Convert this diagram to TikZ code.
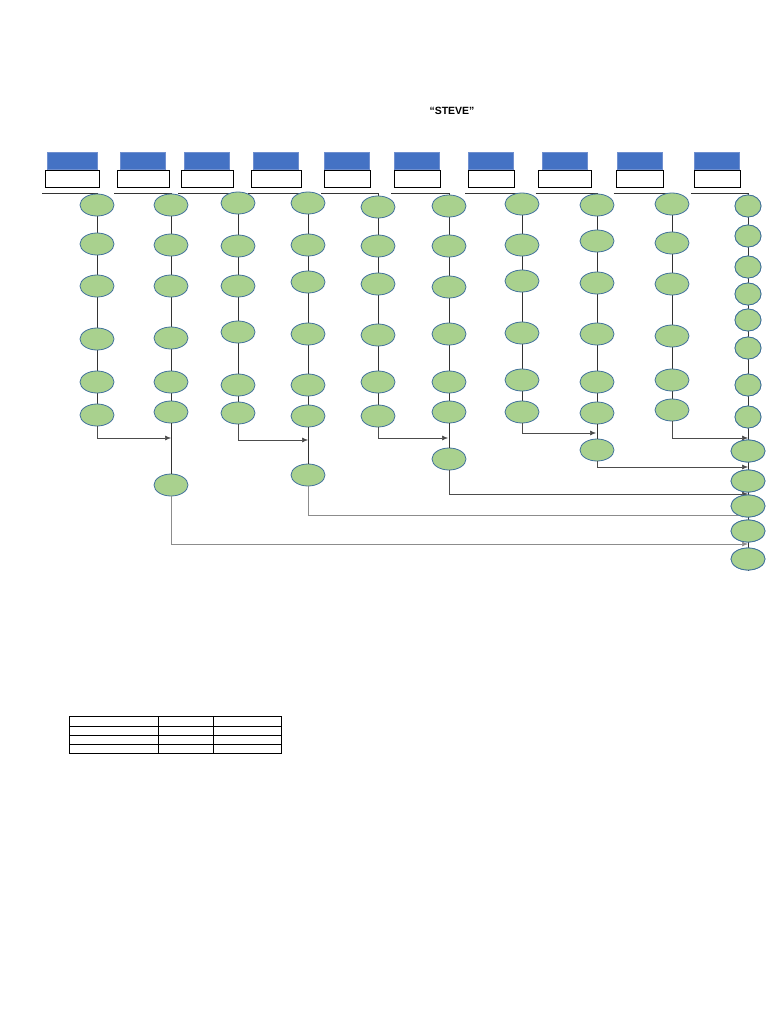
\documentclass[tikz,border=0pt]{standalone}
\usepackage{fontspec}
\setmainfont{Liberation Sans}
\usetikzlibrary{arrows.meta,shapes.geometric}
\definecolor{hdrblue}{HTML}{4472C4}
\definecolor{hdredge}{HTML}{6F8FCF}
\definecolor{elfill}{HTML}{A9D18E}
\definecolor{eledge}{HTML}{41719C}
\begin{document}
\begin{tikzpicture}[x=1pt,y=-1pt,
  ell/.style={ellipse,draw=eledge,line width=0.8pt,fill=elfill,minimum width=34,minimum height=22,inner sep=0},
  sell/.style={ell,minimum width=26},
  hbox/.style={fill=hdrblue,draw=hdredge,minimum height=17,inner sep=0},
  wbox/.style={draw=black,line width=0.8pt,fill=white,minimum height=17,inner sep=0},
  vline/.style={draw=black!80,line width=0.6pt},
  conn/.style={draw=black!70,line width=0.6pt,-{Latex[length=6pt,width=5pt]}}]
\useasboundingbox (0,0) rectangle (768,1024);
\node[font=\bfseries\fontsize{10.5}{12}\selectfont] (title) at (452,111) {“STEVE”};
\foreach \x/\bw/\ww/\i/\cx in {72/50/54/1/97,143/45/52/2/171,207/45/52/3/238,276/45/50/4/308,347/45/46/5/378,417/45/46/6/449,491/45/46/7/522,565/45/53/8/597,640/45/47/9/672,717/45/46/10/748}{
  \node[hbox,minimum width=\bw] (b\i) at (\x,160.5) {};
  \node[wbox,minimum width=\ww] (w\i) at (\x,178.5) {};
  \draw[vline] (\x-\ww/2-3,193) -- (\cx,193) -- (\cx,196);
}
\foreach \c/\cx/\ys in {1/97/{205,244,286,339,382,415},2/171/{205,245,286,338,382,412,485},3/238/{203,246,286,332,385,413},4/308/{203,245,282,334,385,416,475},5/378/{207,246,284,335,382,416},6/449/{206,246,287,334,382,412,459},7/522/{204,245,281,333,380,412},8/597/{205,241,283,334,382,413,450},9/672/{204,243,284,336,380,410}}{
  \draw[vline] (\cx,196) -- (\cx,420);
  \foreach \y [count=\k] in \ys {\node[ell] (e\c-\k) at (\cx,\y) {};}
}
\draw[vline] (748,196) -- (748,571);
\foreach \y [count=\k] in {206,236,267,294,320,348,385,417}{\node[sell] (e10-\k) at (748,\y) {};}
\foreach \y [count=\k from 9] in {451,481,506,531,559}{\node[ell] (e10-\k) at (748,\y) {};}
\draw[vline] (e2-6) -- (e2-7);
\draw[vline] (e2-7) -- (171,544);
\draw[vline] (e4-6) -- (e4-7);
\draw[vline] (e4-7) -- (308,515);
\draw[vline] (e6-6) -- (e6-7);
\draw[vline] (e6-7) -- (449,494);
\draw[vline] (e8-6) -- (e8-7);
\draw[vline] (e8-7) -- (597,467);
\coordinate (t1) at (171,438);
\coordinate (t3) at (308,440);
\coordinate (t5) at (448,438);
\coordinate (t7) at (596,433);
\coordinate (t9) at (748,438);
\coordinate (t8) at (748,467);
\coordinate (t6) at (748,494);
\coordinate (t4) at (748,515);
\coordinate (t2) at (748,544);
\draw[conn] (e1-6) |- (t1);
\draw[conn] (e3-6) |- (t3);
\draw[conn] (e5-6) |- (t5);
\draw[conn] (e7-6) |- (t7);
\draw[conn] (e9-6) |- (t9);
\draw[conn] (e8-7) |- (t8);
\draw[conn] (e6-7) |- (t6);
\draw[conn,draw=black!45] (e4-7) |- (t4);
\draw[conn,draw=black!45] (e2-7) |- (t2);
\foreach \y in {206,236,267,294,320,348,385,417}{\node[sell] at (748,\y) {};}
\foreach \y in {451,481,506,531,559}{\node[ell] at (748,\y) {};}
\draw[line width=0.8pt] (69,716) rectangle (281,753);
\foreach \y in {726,735,744} \draw[line width=0.8pt] (69,\y) -- (281,\y);
\foreach \x in {158,213} \draw[line width=0.8pt] (\x,716) -- (\x,753);
\end{tikzpicture}
\end{document}
